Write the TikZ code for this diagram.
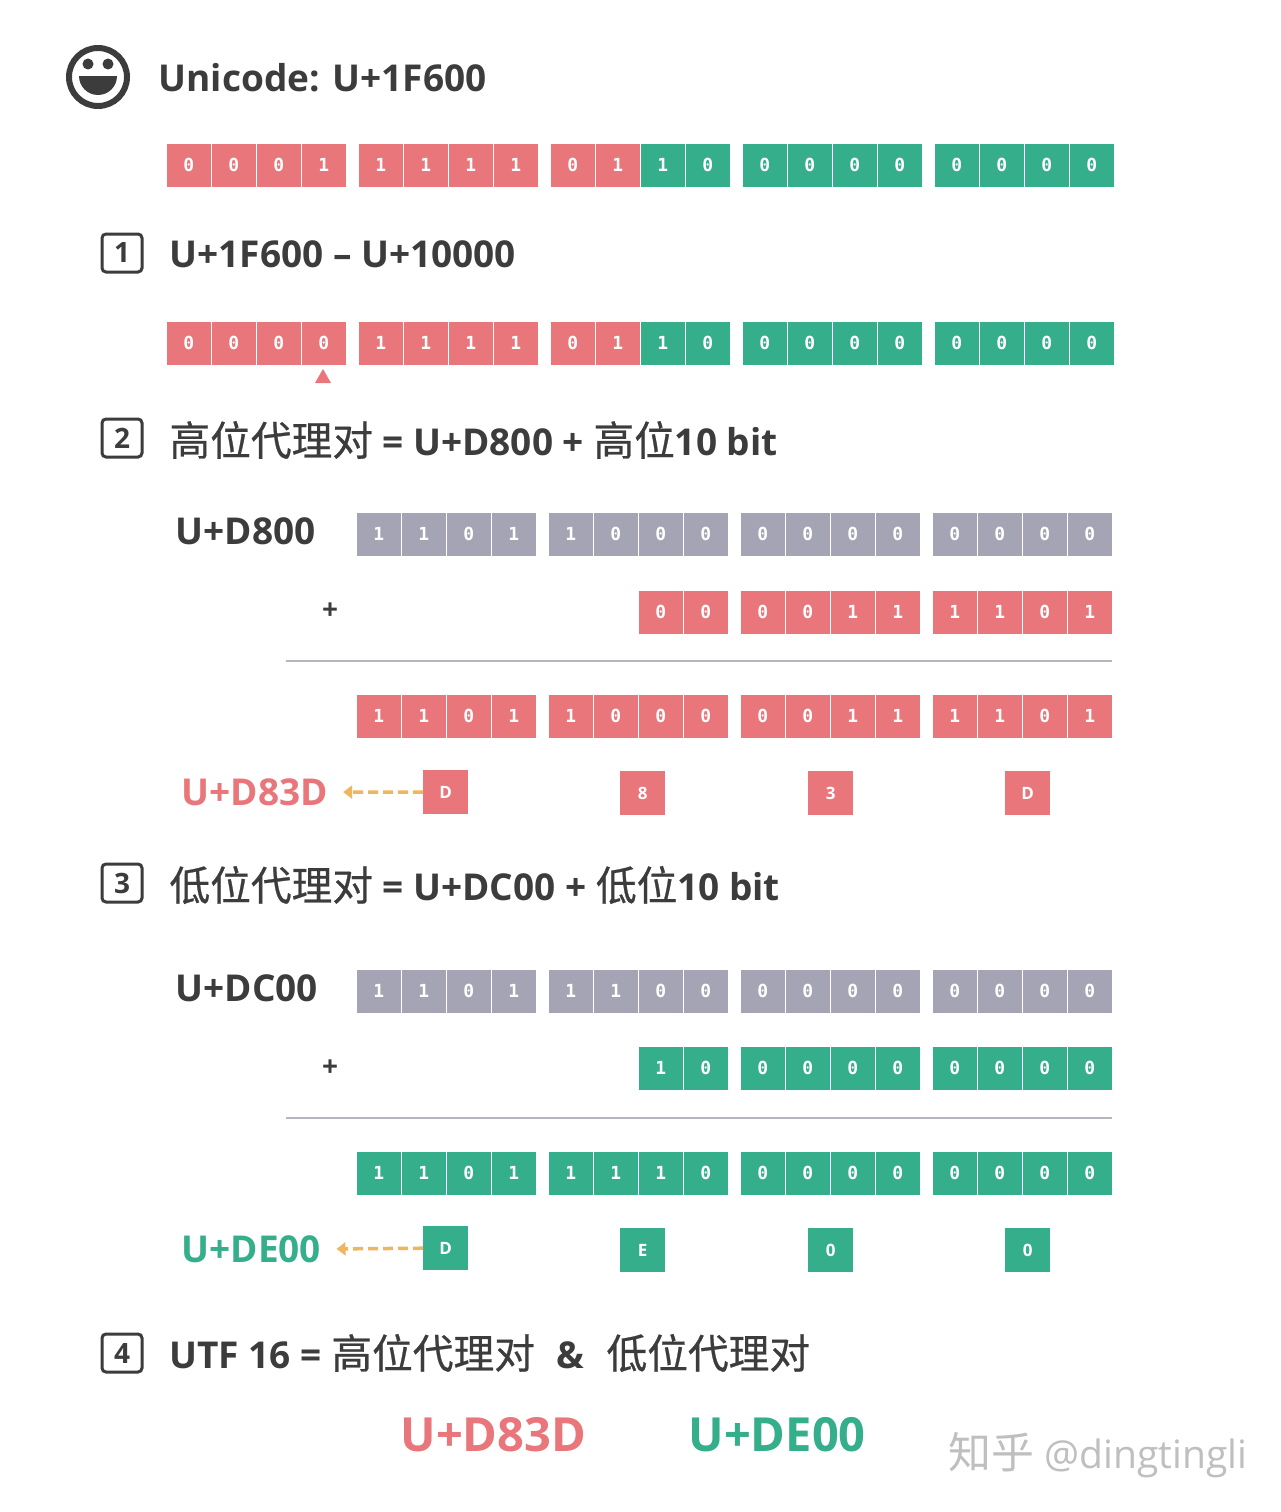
\documentclass[tikz,border=0pt]{standalone}
\usepackage{fontspec}
\setmainfont{Open Sans}
\setmonofont{DejaVu Sans Mono}
\newfontfamily\cjk[Scale=1.1]{Noto Sans CJK SC}
\newfontfamily\cjkx[Scale=1.1,FakeBold=0.6]{Noto Sans CJK SC}
\newcommand{\cjkm}{\cjkx\mdseries}
\usetikzlibrary{arrows.meta}
\definecolor{cred}{HTML}{E8767A}
\definecolor{cgreen}{HTML}{35AE8C}
\definecolor{cgray}{HTML}{A4A4B4}
\definecolor{corange}{HTML}{F0B560}
\definecolor{ctext}{HTML}{3C3C3C}
\tikzset{
 bitcell/.style={draw=white,line width=0.8pt,minimum width=45pt,minimum height=44pt,inner sep=0,anchor=north west,text=white,font=\ttfamily\bfseries\fontsize{18}{18}\selectfont},
 hexbox/.style={minimum width=45pt,minimum height=44pt,inner sep=0,anchor=north west,text=white,font=\bfseries\fontsize{17}{17}\selectfont},
 head/.style={anchor=west,text=ctext,font=\bfseries\fontsize{37}{37}\selectfont},
 numbox/.style={draw=ctext,line width=3pt,rounded corners=4pt,minimum width=40pt,minimum height=38pt,inner sep=0,text=ctext,font=\bfseries\fontsize{28}{28}\selectfont},
 rule/.style={draw=cgray!80,line width=1.5pt},
 dasharrow/.style={corange,line width=3.5pt,dash pattern=on 10pt off 5pt,shorten >=12pt,-{Triangle[length=9pt,width=13pt]}},
}
\newcommand{\cellrow}[4]{\foreach \b [count=\i from 0] in {#4}{\node[bitcell,fill=#3] at ({#1+45*\i},#2) {\b};}}
\begin{document}
\begin{tikzpicture}[x=1pt,y=-1pt]
\useasboundingbox (0,0) rectangle (1280,1512);
\fill[white] (0,0) rectangle (1280,1512);
% smiley
\draw[ctext,line width=6pt] (98,77) circle (29);
\fill[ctext] (88,64) circle (5.5) (108,64) circle (5.5);
\fill[ctext] (79,76) -- (117,76) arc (0:180:19) -- cycle;
\node[head] (t0) at (155,78) {Unicode: U+1F600};
% row 1
\cellrow{166}{143}{cred}{0,0,0,1}
\cellrow{358}{143}{cred}{1,1,1,1}
\cellrow{550}{143}{cred}{0,1}
\cellrow{640}{143}{cgreen}{1,0}
\cellrow{742}{143}{cgreen}{0,0,0,0}
\cellrow{934}{143}{cgreen}{0,0,0,0}
% step 1
\node[numbox] (n1) at (122,253) {1};
\node[head] (t1) at (166,254) {U+1F600 – U+10000};
\cellrow{166}{321}{cred}{0,0,0,0}
\cellrow{358}{321}{cred}{1,1,1,1}
\cellrow{550}{321}{cred}{0,1}
\cellrow{640}{321}{cgreen}{1,0}
\cellrow{742}{321}{cgreen}{0,0,0,0}
\cellrow{934}{321}{cgreen}{0,0,0,0}
\fill[cred] (315,383) -- (331,383) -- (323,369) -- cycle;
% step 2
\node[numbox] (n2) at (122,438) {2};
\node[head] (t2) at (166,440) {{\cjkm 高位代理对} = U+D800 + {\cjkm 高位}10 bit};
\node[head] (l2) at (172,531) {U+D800};
\cellrow{356}{512}{cgray}{1,1,0,1}
\cellrow{548}{512}{cgray}{1,0,0,0}
\cellrow{740}{512}{cgray}{0,0,0,0}
\cellrow{932}{512}{cgray}{0,0,0,0}
\node[text=ctext,font=\bfseries\fontsize{28}{28}\selectfont] (p2) at (330,611) {+};
\cellrow{638}{590}{cred}{0,0}
\cellrow{740}{590}{cred}{0,0,1,1}
\cellrow{932}{590}{cred}{1,1,0,1}
\draw[rule] (286,661) -- (1112,661);
\cellrow{356}{694}{cred}{1,1,0,1}
\cellrow{548}{694}{cred}{1,0,0,0}
\cellrow{740}{694}{cred}{0,0,1,1}
\cellrow{932}{694}{cred}{1,1,0,1}
\node[hexbox,fill=cred] (h2a) at (423,770) {D};
\node[hexbox,fill=cred] at (620,771) {8};
\node[hexbox,fill=cred] at (808,771) {3};
\node[hexbox,fill=cred] at (1005,771) {D};
\node[head,text=cred] (r2) at (178,792) {U+D83D};
\draw[dasharrow] (h2a.west) -- (r2.east);
% step 3
\node[numbox] (n3) at (122,883) {3};
\node[head] (t3) at (166,885) {{\cjkm 低位代理对} = U+DC00 + {\cjkm 低位}10 bit};
\node[head] (l3) at (172,988) {U+DC00};
\cellrow{356}{969}{cgray}{1,1,0,1}
\cellrow{548}{969}{cgray}{1,1,0,0}
\cellrow{740}{969}{cgray}{0,0,0,0}
\cellrow{932}{969}{cgray}{0,0,0,0}
\node[text=ctext,font=\bfseries\fontsize{28}{28}\selectfont] (p3) at (330,1068) {+};
\cellrow{638}{1046}{cgreen}{1,0}
\cellrow{740}{1046}{cgreen}{0,0,0,0}
\cellrow{932}{1046}{cgreen}{0,0,0,0}
\draw[rule] (286,1118) -- (1112,1118);
\cellrow{356}{1151}{cgreen}{1,1,0,1}
\cellrow{548}{1151}{cgreen}{1,1,1,0}
\cellrow{740}{1151}{cgreen}{0,0,0,0}
\cellrow{932}{1151}{cgreen}{0,0,0,0}
\node[hexbox,fill=cgreen] (h3a) at (423,1226) {D};
\node[hexbox,fill=cgreen] at (620,1228) {E};
\node[hexbox,fill=cgreen] at (808,1228) {0};
\node[hexbox,fill=cgreen] at (1005,1228) {0};
\node[head,text=cgreen] (r3) at (178,1249) {U+DE00};
\draw[dasharrow] (h3a.west) -- (r3.east);
% step 4
\node[numbox] (n4) at (122,1353) {4};
\node[head] (t4) at (166,1353) {UTF 16 = {\cjkm 高位代理对}\,\, \&\,\, {\cjkm 低位代理对}};
\node[anchor=west,text=cred,font=\bfseries\fontsize{47}{47}\selectfont] (f1) at (397,1435) {U+D83D};
\node[anchor=west,text=cgreen,font=\bfseries\fontsize{47}{47}\selectfont] (f2) at (685,1435) {U+DE00};
\node[anchor=west,text=black!25,font=\fontsize{39}{39}\selectfont] (wm) at (945,1455) {{\cjk 知乎} @dingtingli};
\end{tikzpicture}
\end{document}
